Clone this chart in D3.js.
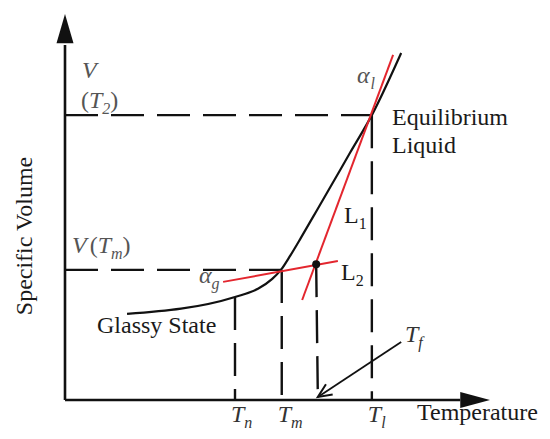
<!DOCTYPE html>
<html>
<head>
<meta charset="utf-8">
<script src="https://cdn.jsdelivr.net/npm/d3@7"></script>
<style>
  html, body { margin: 0; padding: 0; background: #fff; }
  svg { display: block; font-family: "Liberation Serif", "Times New Roman", serif; }
</style>
</head>
<body>
<svg id="chart" width="550" height="439"></svg>
<script>
// ---- data (arbitrary temperature / volume units) ----
const curveTemp = [14.6, 40.0, 45.4, 48.7, 50.8, 53.0, 55.5, 58.4, 62.4, 67.1, 72.2, 79.1];
const curveVol  = [22.3, 26.7, 28.8, 31.3, 33.7, 37.4, 42.0, 47.5, 55.1, 64.1, 73.8, 89.9];
const liquidTangentTemp = [55.8, 77.2];
const liquidTangentVol  = [25.9, 89.4];
const glassTangentTemp  = [37.2, 64.2];
const glassTangentVol   = [30.6, 36.0];
const fictivePoint = [59.1, 35.2];          // L1 / L2 intersection
const fictiveFoot  = [59.5, 0];
const markTemps  = [40.0, 51.0, 72.2];      // Tn, Tm, Tl
const markVols   = [26.7, 33.7, 73.8];      // curve volume at each mark
const markLabels = [["T","n"], ["T","m"], ["T","l"]];
const levelVols  = [73.8, 33.7];            // V(T2), V(Tm)
const levelTemps = [72.2, 50.8];
const arrowFrom  = [79.1, 15.0];
const arrowTo    = [59.5, 0.8];

const svg = d3.select("#chart");
const x = d3.scaleLinear().domain([0, 100]).range([65, 490]);
const y = d3.scaleLinear().domain([0, 100]).range([400, 14]);

const red = "#e3262e";
const dash = "33,13";

// ---- axes with arrowheads ----
svg.append("line").attr("x1", x(0)).attr("y1", y(0)).attr("x2", x(0)).attr("y2", y(92))
  .attr("stroke", "#111").attr("stroke-width", 2.6);
svg.append("line").attr("x1", x(0)).attr("y1", y(0)).attr("x2", x(93)).attr("y2", y(0))
  .attr("stroke", "#111").attr("stroke-width", 2.6);
svg.append("path")
  .attr("d", `M${x(0)},${y(100)} L${x(0)-8.5},${y(92.4)} L${x(0)+8.5},${y(92.4)} Z`)
  .attr("fill", "#111");
svg.append("path")
  .attr("d", `M${x(100)},${y(0)} L${x(93)},${y(0)-8} L${x(93)},${y(0)+8} Z`)
  .attr("fill", "#111");

// ---- horizontal dashed levels ----
levelVols.forEach((v, i) => {
  svg.append("line").attr("x1", x(0)).attr("y1", y(v)).attr("x2", x(levelTemps[i])).attr("y2", y(v))
    .attr("stroke", "#111").attr("stroke-width", 2.4).attr("stroke-dasharray", dash);
});

// ---- vertical dashed marks ----
markTemps.forEach((t, i) => {
  svg.append("line").attr("x1", x(t)).attr("y1", y(markVols[i])).attr("x2", x(t)).attr("y2", y(0))
    .attr("stroke", "#111").attr("stroke-width", 2.4).attr("stroke-dasharray", dash);
});
svg.append("line")
  .attr("x1", x(fictivePoint[0])).attr("y1", y(fictivePoint[1]))
  .attr("x2", x(fictiveFoot[0])).attr("y2", y(fictiveFoot[1]))
  .attr("stroke", "#111").attr("stroke-width", 2.4).attr("stroke-dasharray", dash);

// ---- main V-T curve ----
const pts = curveTemp.map((t, i) => [t, curveVol[i]]);
svg.append("path").datum(pts)
  .attr("d", d3.line().x(d => x(d[0])).y(d => y(d[1])).curve(d3.curveMonotoneX))
  .attr("fill", "none").attr("stroke", "#111").attr("stroke-width", 2.2);

// ---- red tangents ----
svg.append("line")
  .attr("x1", x(liquidTangentTemp[0])).attr("y1", y(liquidTangentVol[0]))
  .attr("x2", x(liquidTangentTemp[1])).attr("y2", y(liquidTangentVol[1]))
  .attr("stroke", red).attr("stroke-width", 2);
svg.append("line")
  .attr("x1", x(glassTangentTemp[0])).attr("y1", y(glassTangentVol[0]))
  .attr("x2", x(glassTangentTemp[1])).attr("y2", y(glassTangentVol[1]))
  .attr("stroke", red).attr("stroke-width", 2);
svg.append("circle").attr("cx", x(fictivePoint[0])).attr("cy", y(fictivePoint[1])).attr("r", 4)
  .attr("fill", "#111");

// ---- Tf arrow ----
const ax1 = x(arrowFrom[0]), ay1 = y(arrowFrom[1]), ax2 = x(arrowTo[0]), ay2 = y(arrowTo[1]);
svg.append("line").attr("x1", ax1).attr("y1", ay1).attr("x2", ax2).attr("y2", ay2)
  .attr("stroke", "#111").attr("stroke-width", 1.8);
const ang = Math.atan2(ay2 - ay1, ax2 - ax1);
const hl = 15, spread = 0.42;
svg.append("path")
  .attr("d", `M${ax2 - hl*Math.cos(ang - spread)},${ay2 - hl*Math.sin(ang - spread)} L${ax2},${ay2} L${ax2 - hl*Math.cos(ang + spread)},${ay2 - hl*Math.sin(ang + spread)}`)
  .attr("fill", "none").attr("stroke", "#111").attr("stroke-width", 2);

// ---- text helpers ----
function label(xp, yp, parts, opts = {}) {
  const t = svg.append("text").attr("x", xp).attr("y", yp)
    .attr("font-size", opts.size || 24).attr("fill", opts.color || "#1a1a1a");
  parts.forEach(p => {
    const s = t.append("tspan").text(p.t);
    if (p.italic) s.attr("font-style", "italic");
    if (p.sub) s.attr("font-size", 16).attr("dy", 6);
    if (p.dx) s.attr("dx", p.dx);
    if (p.reset) s.attr("dy", -6);
  });
  return t;
}

// Y level labels
label(82, 78, [{t: "V", italic: true}], {color: "#555"});
label(81, 108, [{t: "("}, {t: "T", italic: true}, {t: "2", sub: true, italic: true}, {t: ")", reset: true}], {color: "#555"});
label(72, 253, [{t: "V", italic: true}, {t: "(", dx: 3}, {t: "T", italic: true}, {t: "m", sub: true, italic: true}, {t: ")", reset: true}], {color: "#555"});

// alpha labels
label(199, 283, [{t: "α", italic: true}, {t: "g", sub: true, italic: true}], {color: "#555"});
label(357, 83, [{t: "α", italic: true}, {t: "l", sub: true, italic: true, dx: 1}], {color: "#555"});

// text labels
label(392, 125, [{t: "Equilibrium"}]);
label(392, 153, [{t: "Liquid"}]);
label(97, 333, [{t: "Glassy State"}]);
label(344, 223, [{t: "L"}, {t: "1", sub: true}]);
label(341, 280, [{t: "L"}, {t: "2", sub: true}]);
label(417, 420, [{t: "Temperature"}]);
label(405, 342, [{t: "T", italic: true}, {t: "f", sub: true, italic: true}], {color: "#333"});

// temperature marks
markTemps.forEach((t, i) => {
  label(x(t) - 4, 422, [{t: markLabels[i][0], italic: true}, {t: markLabels[i][1], sub: true, italic: true}], {color: "#333"});
});

// y axis title
svg.append("text").attr("transform", "translate(32,236) rotate(-90)")
  .attr("text-anchor", "middle").attr("font-size", 24).attr("fill", "#1a1a1a")
  .text("Specific Volume");
</script>
</body>
</html>
